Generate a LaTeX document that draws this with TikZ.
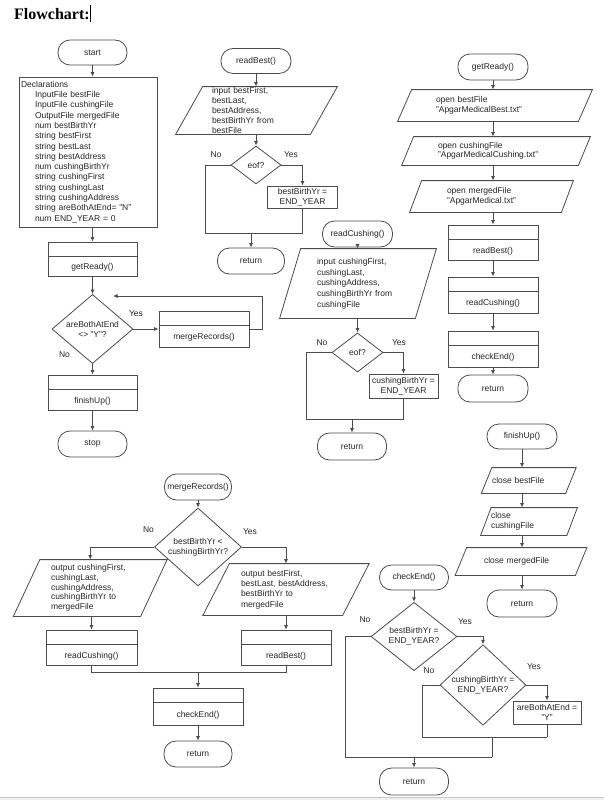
\documentclass[tikz,border=0pt]{standalone}
\usepackage{fontspec}
\setmainfont{Liberation Sans}
\newfontfamily\titlefont{Liberation Serif}
\usetikzlibrary{shapes.geometric,arrows.meta}
\definecolor{lc}{gray}{0.3}
\definecolor{tc}{gray}{0.15}
\newcommand\fsz{\fontsize{8.5}{10}\selectfont}
\newcommand\paraout[2]{\draw[ln] ([xshift=#2]#1.north west) -- ([xshift=#2]#1.north east) -- ([xshift=-#2]#1.south east) -- ([xshift=-#2]#1.south west) -- cycle;}
\begin{document}
\begin{tikzpicture}[x=1pt,y=-1pt,
  base/.style={draw=lc, line width=0.8pt, text=tc, font=\fsz, inner sep=0pt},
  term/.style={base, rounded corners=12pt},
  sub/.style={base, text height=21pt, text depth=0pt,
    path picture={\draw[lc,line width=0.8pt] ([yshift=-14pt]path picture bounding box.north west) -- ([yshift=-14pt]path picture bounding box.north east);}},
  box/.style={base, align=center},
  dia/.style={base, diamond, align=center},
  para/.style={base, draw=none, align=left},
  ln/.style={draw=lc, line width=0.8pt},
  arr/.style={draw=lc, line width=0.8pt, -{Latex[length=4.5pt,width=4pt]}},
  lab/.style={text=tc, font=\fsz, inner sep=0pt}]
\useasboundingbox (0,0) rectangle (604,800);
\fill[white] (0,0) rectangle (604,800);
\fill[gray!12] (0,797) rectangle (604,800);
\draw[gray!45, line width=0.6pt] (0,797) -- (604,797);

% title
\node[anchor=base west, inner sep=0pt, font=\titlefont\bfseries\fontsize{16}{18}\selectfont] (title) at (14,19.5) {Flowchart:};
\coordinate (cur) at (90,5);
\draw[line width=0.6pt] (cur) -- ++(0,17);

% ---------- main ----------
\node[term, minimum width=69pt, minimum height=25pt] (start) at (92.5,52.5) {start};
\node[base, minimum width=138pt, minimum height=150pt, text width=134pt, align=left, font=\fontsize{8.5}{10.3}\selectfont] (decl) at (88,152) {Declarations\\
\hspace*{14pt}InputFile bestFile\\
\hspace*{14pt}InputFile cushingFile\\
\hspace*{14pt}OutputFile mergedFile\\
\hspace*{14pt}num bestBirthYr\\
\hspace*{14pt}string bestFirst\\
\hspace*{14pt}string bestLast\\
\hspace*{14pt}string bestAddress\\
\hspace*{14pt}num cushingBirthYr\\
\hspace*{14pt}string cushingFirst\\
\hspace*{14pt}string cushingLast\\
\hspace*{14pt}string cushingAddress\\
\hspace*{14pt}string areBothAtEnd= "N"\\
\hspace*{14pt}num END\_YEAR = 0};
\node[sub, minimum width=89pt, minimum height=34pt] (gR) at (92.5,259) {getReady()};
\node[dia, minimum width=81pt, minimum height=56pt] (ab) at (92.5,329) {areBothAtEnd\\<> "Y"?};
\node[lab] (yes1) at (136,314) {Yes};
\node[lab] (no1) at (64.5,355) {No};
\node[sub, minimum width=90pt, minimum height=36pt] (mR) at (204,329) {mergeRecords()};
\node[sub, minimum width=89pt, minimum height=35pt] (fU) at (92.5,392.5) {finishUp()};
\node[term, minimum width=69pt, minimum height=26pt] (stop) at (92.5,444) {stop};
\coordinate (loopend) at (113,296);

\draw[arr] (start.south) -- (start.south |- decl.north);
\draw[arr] (gR.north |- decl.south) -- (gR.north);
\draw[arr] (gR) -- (ab);
\draw[arr] (ab.east) -- (mR.west);
\draw[arr] (mR.east) -- ++(13,0) |- (loopend);
\draw[arr] (ab.south) -- (fU.north);
\draw[arr] (fU) -- (stop);

% ---------- readBest ----------
\node[term, minimum width=70pt, minimum height=25pt] (rbT) at (256,61) {readBest()};
\node[para, minimum width=134pt, minimum height=47pt, text width=89pt, font=\fontsize{8.5}{9.8}\selectfont] (rbIn) at (256.5,110.5) {input bestFirst,\\bestLast,\\bestAddress,\\bestBirthYr from\\bestFile};
\paraout{rbIn}{13.5pt}
\node[dia, minimum width=50pt, minimum height=38pt] (eof1) at (256,165) {eof?};
\node[lab] (yes2) at (291,155) {Yes};
\node[lab] (no2) at (216,155) {No};
\node[box, minimum width=70pt, minimum height=22pt] (bby) at (302.5,197) {bestBirthYr =\\END\_YEAR};
\node[term, minimum width=67pt, minimum height=26pt] (rbR) at (251,261) {return};
\coordinate (rbL) at (205,233);
\coordinate (rbM) at (251,233);
\draw[arr] (rbT.south) -- (rbT.south |- rbIn.north);
\draw[arr] (eof1.north |- rbIn.south) -- (eof1.north);
\draw[arr] (eof1.east) -| (bby.north);
\draw[ln] (eof1.west) -| (rbL) -- (bby.south |- rbL);
\draw[ln] (bby.south) -- (bby.south |- rbL);
\draw[arr] (rbM) -- (rbR.north);

% ---------- readCushing ----------
\node[term, minimum width=70pt, minimum height=26pt] (rcT) at (357.5,234) {readCushing()};
\node[para, minimum width=135pt, minimum height=69pt, text width=82pt, font=\fontsize{8.5}{10.7}\selectfont] (rcIn) at (358,283.5) {input cushingFirst,\\cushingLast,\\cushingAddress,\\cushingBirthYr from\\cushingFile};
\paraout{rcIn}{10.5pt}
\node[dia, minimum width=51pt, minimum height=39pt] (eof2) at (357.5,352.5) {eof?};
\node[lab] (yes3) at (399,343) {Yes};
\node[lab] (no3) at (322,343) {No};
\node[box, minimum width=69pt, minimum height=24pt] (cby) at (403.5,386) {cushingBirthYr =\\END\_YEAR};
\node[term, minimum width=69pt, minimum height=27pt] (rcR) at (352,446.5) {return};
\coordinate (rcL) at (306,419);
\coordinate (rcM) at (352,419);
\draw[arr] (rcT.south) -- (rcT.south |- rcIn.north);
\draw[arr] (eof2.north |- rcIn.south) -- (eof2.north);
\draw[arr] (eof2.east) -| (cby.north);
\draw[ln] (eof2.west) -| (rcL) -- (cby.south |- rcL);
\draw[ln] (cby.south) -- (cby.south |- rcL);
\draw[arr] (rcM) -- (rcR.north);

% ---------- getReady ----------
\node[term, minimum width=70pt, minimum height=26pt] (grT) at (493,67) {getReady()};
\node[para, minimum width=180pt, minimum height=31pt, text width=118pt, font=\fontsize{8.5}{9.5}\selectfont] (p1) at (495,105.5) {open bestFile\\"ApgarMedicalBest.txt"};
\paraout{p1}{7pt}
\node[para, minimum width=176pt, minimum height=28pt, text width=116pt, font=\fontsize{8.5}{9.5}\selectfont] (p2) at (496,151) {open cushingFile\\"ApgarMedicalCushing.txt"};
\paraout{p2}{6pt}
\node[para, minimum width=151pt, minimum height=31pt, text width=89pt, font=\fontsize{8.5}{9.5}\selectfont] (p3) at (491.5,196.5) {open mergedFile\\"ApgarMedical.txt"};
\paraout{p3}{6pt}
\node[sub, minimum width=90pt, minimum height=35pt] (s1) at (493,242.5) {readBest()};
\node[sub, minimum width=90pt, minimum height=36pt] (s2) at (493,295) {readCushing()};
\node[sub, minimum width=90pt, minimum height=36pt] (s3) at (493,349) {checkEnd()};
\node[term, minimum width=70pt, minimum height=27pt] (grR) at (493,388.5) {return};
\draw[arr] (grT.south) -- (grT.south |- p1.north);
\draw[arr] (grT.south |- p1.south) -- (grT.south |- p2.north);
\draw[arr] (grT.south |- p2.south) -- (grT.south |- p3.north);
\draw[arr] (s1.north |- p3.south) -- (s1.north);
\draw[arr] (s1) -- (s2);
\draw[arr] (s2) -- (s3);
\draw[arr] (s3) -- (grR);

% ---------- finishUp ----------
\node[term, minimum width=70pt, minimum height=25pt] (fuT) at (522,436.5) {finishUp()};
\node[para, minimum width=83.5pt, minimum height=25pt, text width=73.5pt] (q1) at (528.75,480.5) {close bestFile};
\paraout{q1}{5.25pt}
\node[para, minimum width=85.5pt, minimum height=27pt, text width=76pt] (q2) at (529,521.5) {close\\cushingFile};
\paraout{q2}{5.25pt}
\node[para, minimum width=119.5pt, minimum height=27pt, text width=74pt] (q3) at (521,561.5) {close mergedFile};
\paraout{q3}{5.75pt}
\node[term, minimum width=70pt, minimum height=27pt] (fuR) at (522,603.5) {return};
\draw[arr] (fuT.south) -- (fuT.south |- q1.north);
\draw[arr] (fuT.south |- q1.south) -- (fuT.south |- q2.north);
\draw[arr] (fuT.south |- q2.south) -- (fuT.south |- q3.north);
\draw[arr] (fuT.south |- q3.south) -- (fuR.north);

% ---------- checkEnd ----------
\node[term, minimum width=69pt, minimum height=25pt] (ceT) at (414,577.5) {checkEnd()};
\node[dia, minimum width=86pt, minimum height=63pt] (d1) at (414,636.5) {bestBirthYr =\\END\_YEAR?};
\node[lab] (no4) at (365,620) {No};
\node[lab] (yes4) at (465,622) {Yes};
\node[dia, minimum width=86pt, minimum height=64pt] (d2) at (483,685) {cushingBirthYr =\\END\_YEAR?};
\node[lab] (no5) at (429,671) {No};
\node[lab] (yes5) at (534,667) {Yes};
\node[box, minimum width=68pt, minimum height=23pt] (abe) at (547,712.5) {areBothAtEnd =\\"Y"};
\node[term, minimum width=69pt, minimum height=27pt] (ceR) at (414,781.5) {return};
\coordinate (ceL2) at (422,737);
\coordinate (ceM) at (492,737);
\coordinate (ceL1) at (345,757);
\coordinate (ceM2) at (414,757);
\draw[arr] (ceT) -- (d1);
\draw[arr] (d1.east) -| (d2.north);
\draw[arr] (d2.east) -| (abe.north);
\draw[ln] (d2.west) -| (ceL2) -- (abe.south |- ceL2);
\draw[ln] (abe.south) -- (abe.south |- ceL2);
\draw[ln] (ceM) -- (ceM |- ceL1);
\draw[ln] (d1.west) -| (ceL1) -- (ceM |- ceL1);
\draw[arr] (ceM2) -- (ceR.north);

% ---------- mergeRecords ----------
\node[term, minimum width=67pt, minimum height=26pt] (mrT) at (198,487) {mergeRecords()};
\node[dia, minimum width=87pt, minimum height=64pt] (md) at (198,547) {bestBirthYr <\\cushingBirthYr?};
\node[lab] (no6) at (148.5,530) {No};
\node[lab] (yes6) at (250,532) {Yes};
\node[para, minimum width=126.5pt, minimum height=56pt, text width=78.5pt, font=\fontsize{8.5}{9.75}\selectfont] (pl) at (90.25,588) {output cushingFirst,\\cushingLast,\\cushingAddress,\\cushingBirthYr to\\mergedFile};
\paraout{pl}{13.25pt}
\node[para, minimum width=139pt, minimum height=51pt, text width=90pt, font=\fontsize{8.5}{10.3}\selectfont] (pr) at (286,589.5) {output bestFirst,\\bestLast, bestAddress,\\bestBirthYr to\\mergedFile};
\paraout{pr}{13.25pt}
\node[sub, minimum width=91pt, minimum height=35pt] (sl) at (91.5,647.5) {readCushing()};
\node[sub, minimum width=90pt, minimum height=35pt] (sr) at (286,647.5) {readBest()};
\node[sub, minimum width=90pt, minimum height=37pt] (sc) at (198,706.5) {checkEnd()};
\node[term, minimum width=68pt, minimum height=26pt] (mrR) at (198,754) {return};
\coordinate (mrM) at (198,672);
\draw[arr] (mrT) -- (md);
\draw[arr] (md.west) -| (pl.north);
\draw[arr] (md.east) -| (pr.north);
\draw[arr] (sl.north |- pl.south) -- (sl.north);
\draw[arr] (pr.south) -- (sr.north);
\draw[ln] (sl.south) |- (sr.south |- mrM) -- (sr.south);
\draw[arr] (mrM) -- (sc.north);
\draw[arr] (sc) -- (mrR);
\end{tikzpicture}
\end{document}
